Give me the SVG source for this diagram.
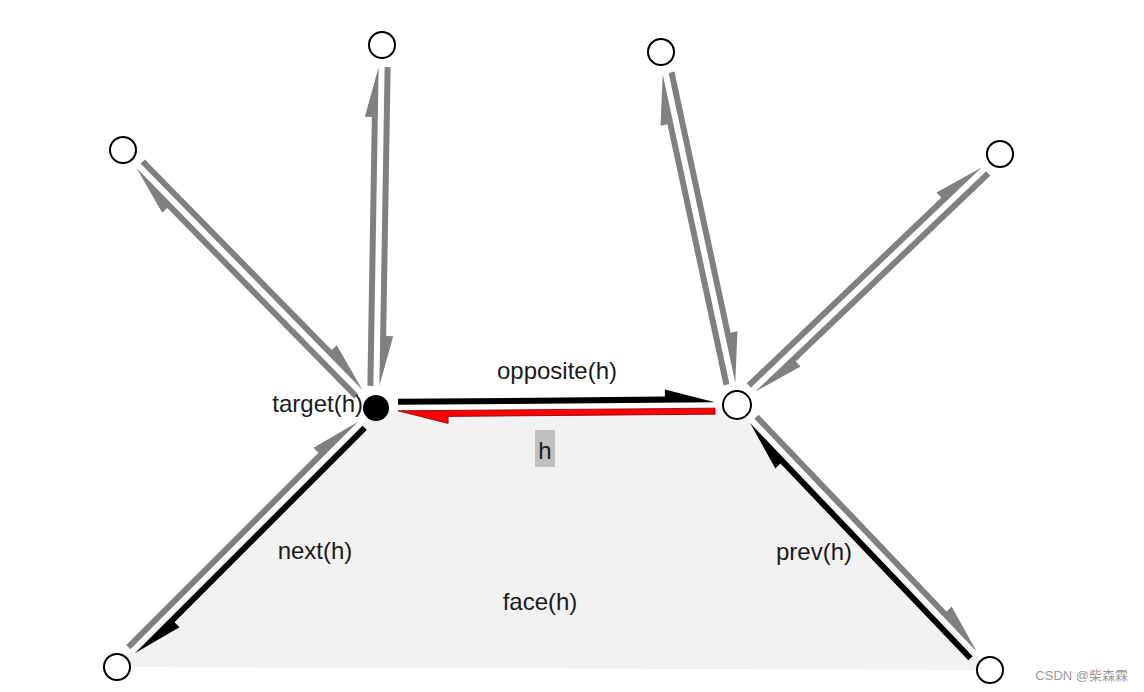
<svg xmlns="http://www.w3.org/2000/svg" width="1144" height="692" viewBox="0 0 1144 692">
<style>
.g{fill:#808080}.k{fill:#000}.r{fill:#ff0000;stroke:#7a0000;stroke-width:0.8}
.n{fill:#fff;stroke:#000;stroke-width:2}
text{font-family:"Liberation Sans",Arial,sans-serif;font-size:24px;fill:#1a1a1a}
</style>
<rect width="1144" height="692" fill="#fff"/>
<polygon id="face" points="376,410 737,407 990,670 117,667" fill="#f2f2f2"/>
<g id="connectors">
<path class="k" transform="translate(376,408) rotate(-0.48)" d="M22,-3L339,-3L289,-16L289,-9L22,-9Z"/>
<path class="r" transform="translate(737,405) rotate(179.52)" d="M22,-3L339,-3L289,-16L289,-9L22,-9Z"/>
<path class="g" transform="translate(376,408) rotate(-89.05)" d="M22,-3L341,-3L291,-16L291,-9L22,-9Z"/>
<path class="g" transform="translate(382,45) rotate(90.95)" d="M22,-3L341,-3L291,-16L291,-9L22,-9Z"/>
<path class="g" transform="translate(376,408) rotate(-134.44)" d="M22,-3L339,-3L289,-16L289,-9L22,-9Z"/>
<path class="g" transform="translate(123,150) rotate(45.56)" d="M22,-3L339,-3L289,-16L289,-9L22,-9Z"/>
<path class="g" transform="translate(737,405) rotate(-102.15)" d="M22,-3L339,-3L289,-16L289,-9L22,-9Z"/>
<path class="g" transform="translate(661,52) rotate(77.85)" d="M22,-3L339,-3L289,-16L289,-9L22,-9Z"/>
<path class="g" transform="translate(737,405) rotate(-43.66)" d="M22,-3L341,-3L291,-16L291,-9L22,-9Z"/>
<path class="g" transform="translate(1000,154) rotate(136.34)" d="M22,-3L341,-3L291,-16L291,-9L22,-9Z"/>
<path class="k" transform="translate(376,408) rotate(135)" d="M22,-3L344,-3L294,-16L294,-9L22,-9Z"/>
<path class="g" transform="translate(117,667) rotate(-45)" d="M22,-3L344,-3L294,-16L294,-9L22,-9Z"/>
<path class="g" transform="translate(737,405) rotate(46.32)" d="M22,-3L344,-3L294,-16L294,-9L22,-9Z"/>
<path class="k" transform="translate(990,670) rotate(-133.68)" d="M22,-3L344,-3L294,-16L294,-9L22,-9Z"/>
</g>
<g id="n0"><circle cx="376" cy="408" r="13" fill="#000"/></g>
<g id="n1"><circle class="n" cx="737" cy="405" r="14"/></g>
<g id="nA"><circle class="n" cx="382" cy="45" r="13"/></g>
<g id="nB"><circle class="n" cx="123" cy="150" r="13"/></g>
<g id="nC"><circle class="n" cx="661" cy="52" r="13"/></g>
<g id="nD"><circle class="n" cx="1000" cy="154" r="13"/></g>
<g id="nE"><circle class="n" cx="117" cy="667" r="13"/></g>
<g id="nF"><circle class="n" cx="990" cy="670" r="13"/></g>
<text x="557" y="379" text-anchor="middle">opposite(h)</text>
<rect x="535" y="430" width="20" height="37" fill="#c0c0c0"/>
<text x="545" y="459" text-anchor="middle">h</text>
<text x="363" y="412" text-anchor="end">target(h)</text>
<text x="315" y="559" text-anchor="middle">next(h)</text>
<text x="814" y="560" text-anchor="middle">prev(h)</text>
<text x="540" y="610" text-anchor="middle">face(h)</text>
<text x="1128" y="680" text-anchor="end" style="font-size:13px;fill:#999;font-family:'Liberation Sans','Noto Sans CJK SC',sans-serif">CSDN @柴森霖</text>
</svg>
